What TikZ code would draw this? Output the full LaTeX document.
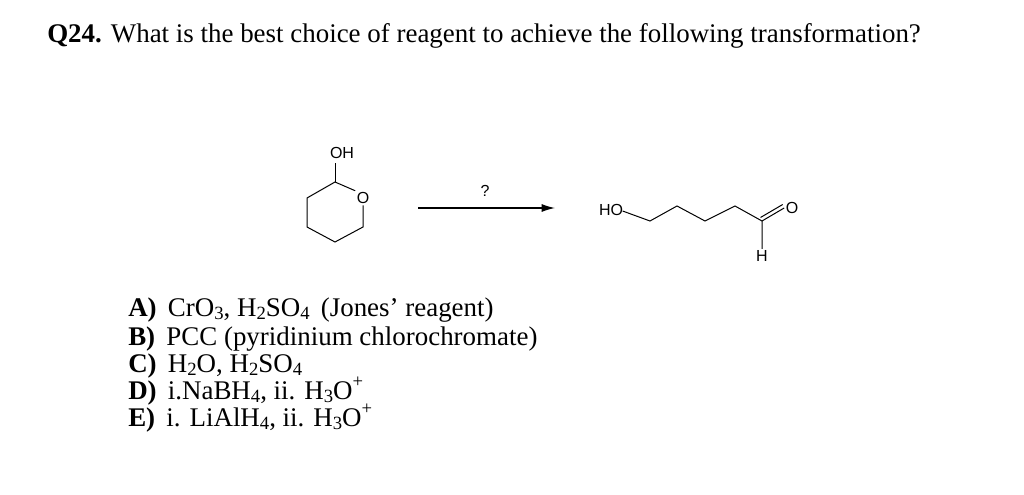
\documentclass[tikz,border=0pt]{standalone}
\usepackage{fontspec}
\usetikzlibrary{arrows.meta,calc}
\setmainfont{Liberation Serif}
\newfontfamily\chemf{Liberation Sans}
\newcommand{\sbs}[1]{\raisebox{-0.25ex}{\fontsize{14}{15}\selectfont #1}}
\newcommand{\sps}[1]{\raisebox{0.9ex}{\fontsize{14}{15}\selectfont #1}}
\begin{document}
\begin{tikzpicture}[x=0.75pt,y=-0.75pt,
  bond/.style={line width=0.75pt},
  lbl/.style={font=\chemf\fontsize{12}{13}\selectfont, inner sep=1pt},
  txt/.style={anchor=base west, inner sep=0pt, font=\fontsize{20.2}{22}\selectfont}]
\useasboundingbox (0,0) rectangle (1024,495);
% title
\node[txt] (title) at (47,43) {\textbf{Q24.} What is the best choice of reagent to achieve the following transformation?};
% ring
\coordinate (c1) at (335,182);
\node[lbl] (o1) at (363,198) {O};
\coordinate (c5) at (363,227);
\coordinate (c4) at (335,242);
\coordinate (c3) at (307,227);
\coordinate (c2) at (307,198);
\node[lbl] (oh) at (342,153) {OH};
\draw[bond] (o1.north west) -- (c1) -- (c2) -- (c3) -- (c4) -- (c5) -- (o1.south);
\draw[bond] (c1) -- (335,163);
% arrow
\coordinate (a1) at (418,208);
\coordinate (a2) at (555,208);
\draw[line width=0.9pt,-{Latex[length=10pt,width=6pt]}] (a1) -- (a2);
\node[lbl] (q) at (485,191) {?};
% chain
\node[lbl] (ho) at (611,210) {HO};
\coordinate (k1) at (650,221);
\coordinate (k2) at (677,206);
\coordinate (k3) at (705,221);
\coordinate (k4) at (735,206);
\coordinate (k5) at (762,221);
\node[lbl] (o2) at (792,208) {O};
\node[lbl] (h) at (762,256) {H};
\draw[bond] (ho.east) ++(-2,1) -- (k1) -- (k2) -- (k3) -- (k4) -- (k5) -- (h.north);
\draw[bond] (k5) -- (o2.west);
\draw[bond] ($(k5)+(-1.5,-3.5)$) -- ($(o2.west)+(-1.5,-3.5)$);
% answers
\node[txt] (ansA) at (128,316) {\textbf{A)}\, CrO\sbs{3}, H\sbs{2}SO\sbs{4}\, (Jones’ reagent)};
\node[txt] (ansB) at (128,345) {\textbf{B)}\, PCC (pyridinium chlorochromate)};
\node[txt] (ansC) at (128,372) {\textbf{C)}\, H\sbs{2}O, H\sbs{2}SO\sbs{4}};
\node[txt] (ansD) at (128,399) {\textbf{D)}\, i.NaBH\sbs{4}, ii. H\sbs{3}O\sps{+}};
\node[txt] (ansE) at (128,426) {\textbf{E)}\, i. LiAlH\sbs{4}, ii. H\sbs{3}O\sps{+}};
\end{tikzpicture}
\end{document}
